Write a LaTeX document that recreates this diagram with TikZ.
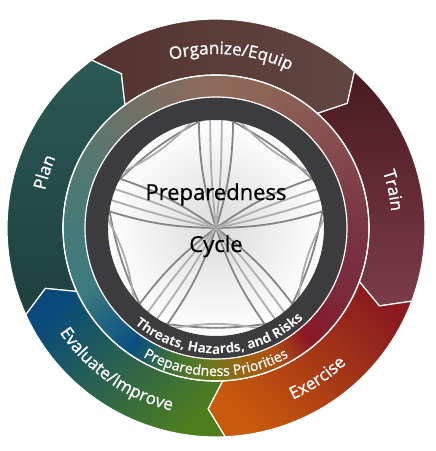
\documentclass[tikz,border=0pt]{standalone}
\usepackage{fontspec}
\setmainfont{Open Sans}
\newfontfamily\semifont[FakeBold=1.2]{Open Sans}
\newfontfamily\titlefont[FakeBold=0.6]{Open Sans}
\usetikzlibrary{decorations.text}

% band colours
\definecolor{planLight}{HTML}{2B5855}
\definecolor{planDark}{HTML}{1E403F}
\definecolor{orgLeft}{HTML}{52322E}
\definecolor{orgRight}{HTML}{624641}
\definecolor{trainTop}{HTML}{4A1A1F}
\definecolor{trainBot}{HTML}{7C3B49}
\definecolor{exerTop}{HTML}{8A1A1F}
\definecolor{exerBot}{HTML}{C85A0C}
\definecolor{evalTop}{HTML}{0A4A7A}
\definecolor{evalBot}{HTML}{4E7D1E}
\definecolor{ringDark}{HTML}{3C3C3E}
% ring gradient stops
\definecolor{g0}{HTML}{7A3444}
\definecolor{g40}{HTML}{86504E}
\definecolor{g70}{HTML}{8D6556}
\definecolor{g95}{HTML}{8C6B5A}
\definecolor{g125}{HTML}{717066}
\definecolor{g150}{HTML}{557870}
\definecolor{g180}{HTML}{457A78}
\definecolor{g205}{HTML}{3D7A7F}
\definecolor{g225}{HTML}{1A5E82}
\definecolor{g235}{HTML}{0B5080}
\definecolor{g250}{HTML}{3C7038}
\definecolor{g265}{HTML}{627A1E}
\definecolor{g280}{HTML}{9A6614}
\definecolor{g295}{HTML}{B04D12}
\definecolor{g310}{HTML}{8A1726}
\definecolor{g330}{HTML}{7A2A3A}

\newcommand\labelsize{\semifont\fontsize{17}{17}\selectfont}
\newcommand\ringsize{\semifont\fontsize{14}{14}\selectfont}

\begin{document}
\begin{tikzpicture}[x=1pt,y=1pt,
                    band/.style={draw=white,line width=1.2pt},
                    spoke/.style={black!48,line width=1.8pt},
                    arcline/.style={black!32,line width=1.8pt},
                    split/.style={white,line width=1.2pt},
                    curved/.style={decorate,decoration={text along path,text align=center,text color=white,text={#1}}}]
  \useasboundingbox (-216,-223) rectangle (220,228);
  \coordinate (hub) at (0,0);

  % centre disk and its pattern
  \shade[inner color=black!14,outer color=white] (hub) circle[radius=110];
  \foreach \k in {0,...,4} {
    \pgfmathsetmacro\t{90+72*\k}
    \draw[spoke] (hub) to[bend right=8] ({\t-9}:110);
    \draw[spoke] (hub) to[bend left=8] ({\t+9}:110);
    \draw[arcline] (hub) to[bend right=3] ({\t-3}:110);
    \draw[arcline] (hub) to[bend left=3] ({\t+3}:110);
    \draw[spoke] ({\t+6}:110) to[bend right=8] ({\t+66}:110);
    \draw[arcline] ({\t+12}:110) to[bend left=10] ({\t+60}:110);
  }

  % dark ring
  \fill[ringDark,even odd rule] (hub) circle[radius=131] circle[radius=108];

  % colour ring
  \foreach \a/\b/\ca/\cb in {0/40/g0/g40,40/70/g40/g70,70/95/g70/g95,95/125/g95/g125,
                             125/150/g125/g150,150/180/g150/g180,180/205/g180/g205,
                             205/225/g205/g225,225/235/g225/g235,235/250/g235/g250,
                             250/265/g250/g265,265/280/g265/g280,280/295/g280/g295,
                             295/310/g295/g310,310/330/g310/g330,330/360/g330/g0} {
    \pgfmathtruncatemacro\n{\b-\a-1}
    \foreach \i in {0,...,\n} {
      \pgfmathsetmacro\p{100-100*\i/(\b-\a)}
      \fill[\ca!\p!\cb] ({\a+\i}:130.5) -- ({\a+\i}:153.5) -- ({\a+\i+1.3}:153.5) -- ({\a+\i+1.3}:130.5) -- cycle;
    }
  }

  % outer band, one arrow per step
  \foreach \a/\b/\ct/\cb/\sa in {204.5/126.5/planLight/planDark/0,
                                 126.5/48.5/orgLeft/orgRight/90,
                                 48.5/-20.5/trainTop/trainBot/0,
                                 -20.5/-87.5/exerTop/exerBot/-45,
                                 -87.5/-155.5/evalTop/evalBot/45} {
    \path[band,top color=\ct,bottom color=\cb,shading angle=\sa]
      (\a:209) arc[start angle=\a,end angle=\b,radius=209]
      -- ({\b-5}:181) -- (\b:153)
      arc[start angle=\b,end angle=\a,radius=153]
      -- ({\a-5}:181) -- cycle;
  }
  \draw[split] (hub) circle[radius=153];
  \draw[split] (hub) circle[radius=131];

  % step labels
  \path[curved={|\labelsize|Organize/Equip}] (150:174) arc[start angle=150,end angle=20,radius=174];
  \path[curved={|\labelsize|Plan}] (227:175) arc[start angle=227,end angle=97,radius=175];
  \path[curved={|\labelsize|Train}] (77:176) arc[start angle=77,end angle=-53,radius=176];
  \path[curved={|\labelsize|Exercise}] (-121:188) arc[start angle=-121,end angle=9,radius=188];
  \path[curved={|\labelsize|Evaluate/Improve}] (-190:188) arc[start angle=-190,end angle=-60,radius=188];

  % ring labels
  \path[curved={|\bfseries\fontsize{13.5}{13.5}\selectfont|Threats, Hazards, and Risks}] (-170:126) arc[start angle=-170,end angle=-6,radius=126];
  \path[curved={|\ringsize|Preparedness Priorities}] (-165:148) arc[start angle=-165,end angle=-15,radius=148];

  % centre title
  \node[font=\titlefont\fontsize{22}{22}\selectfont,anchor=base] (title) at (0,28) {Preparedness};
  \node[font=\titlefont\fontsize{22}{22}\selectfont,anchor=base] (cycle) at (0,-24) {Cycle};
\end{tikzpicture}
\end{document}
